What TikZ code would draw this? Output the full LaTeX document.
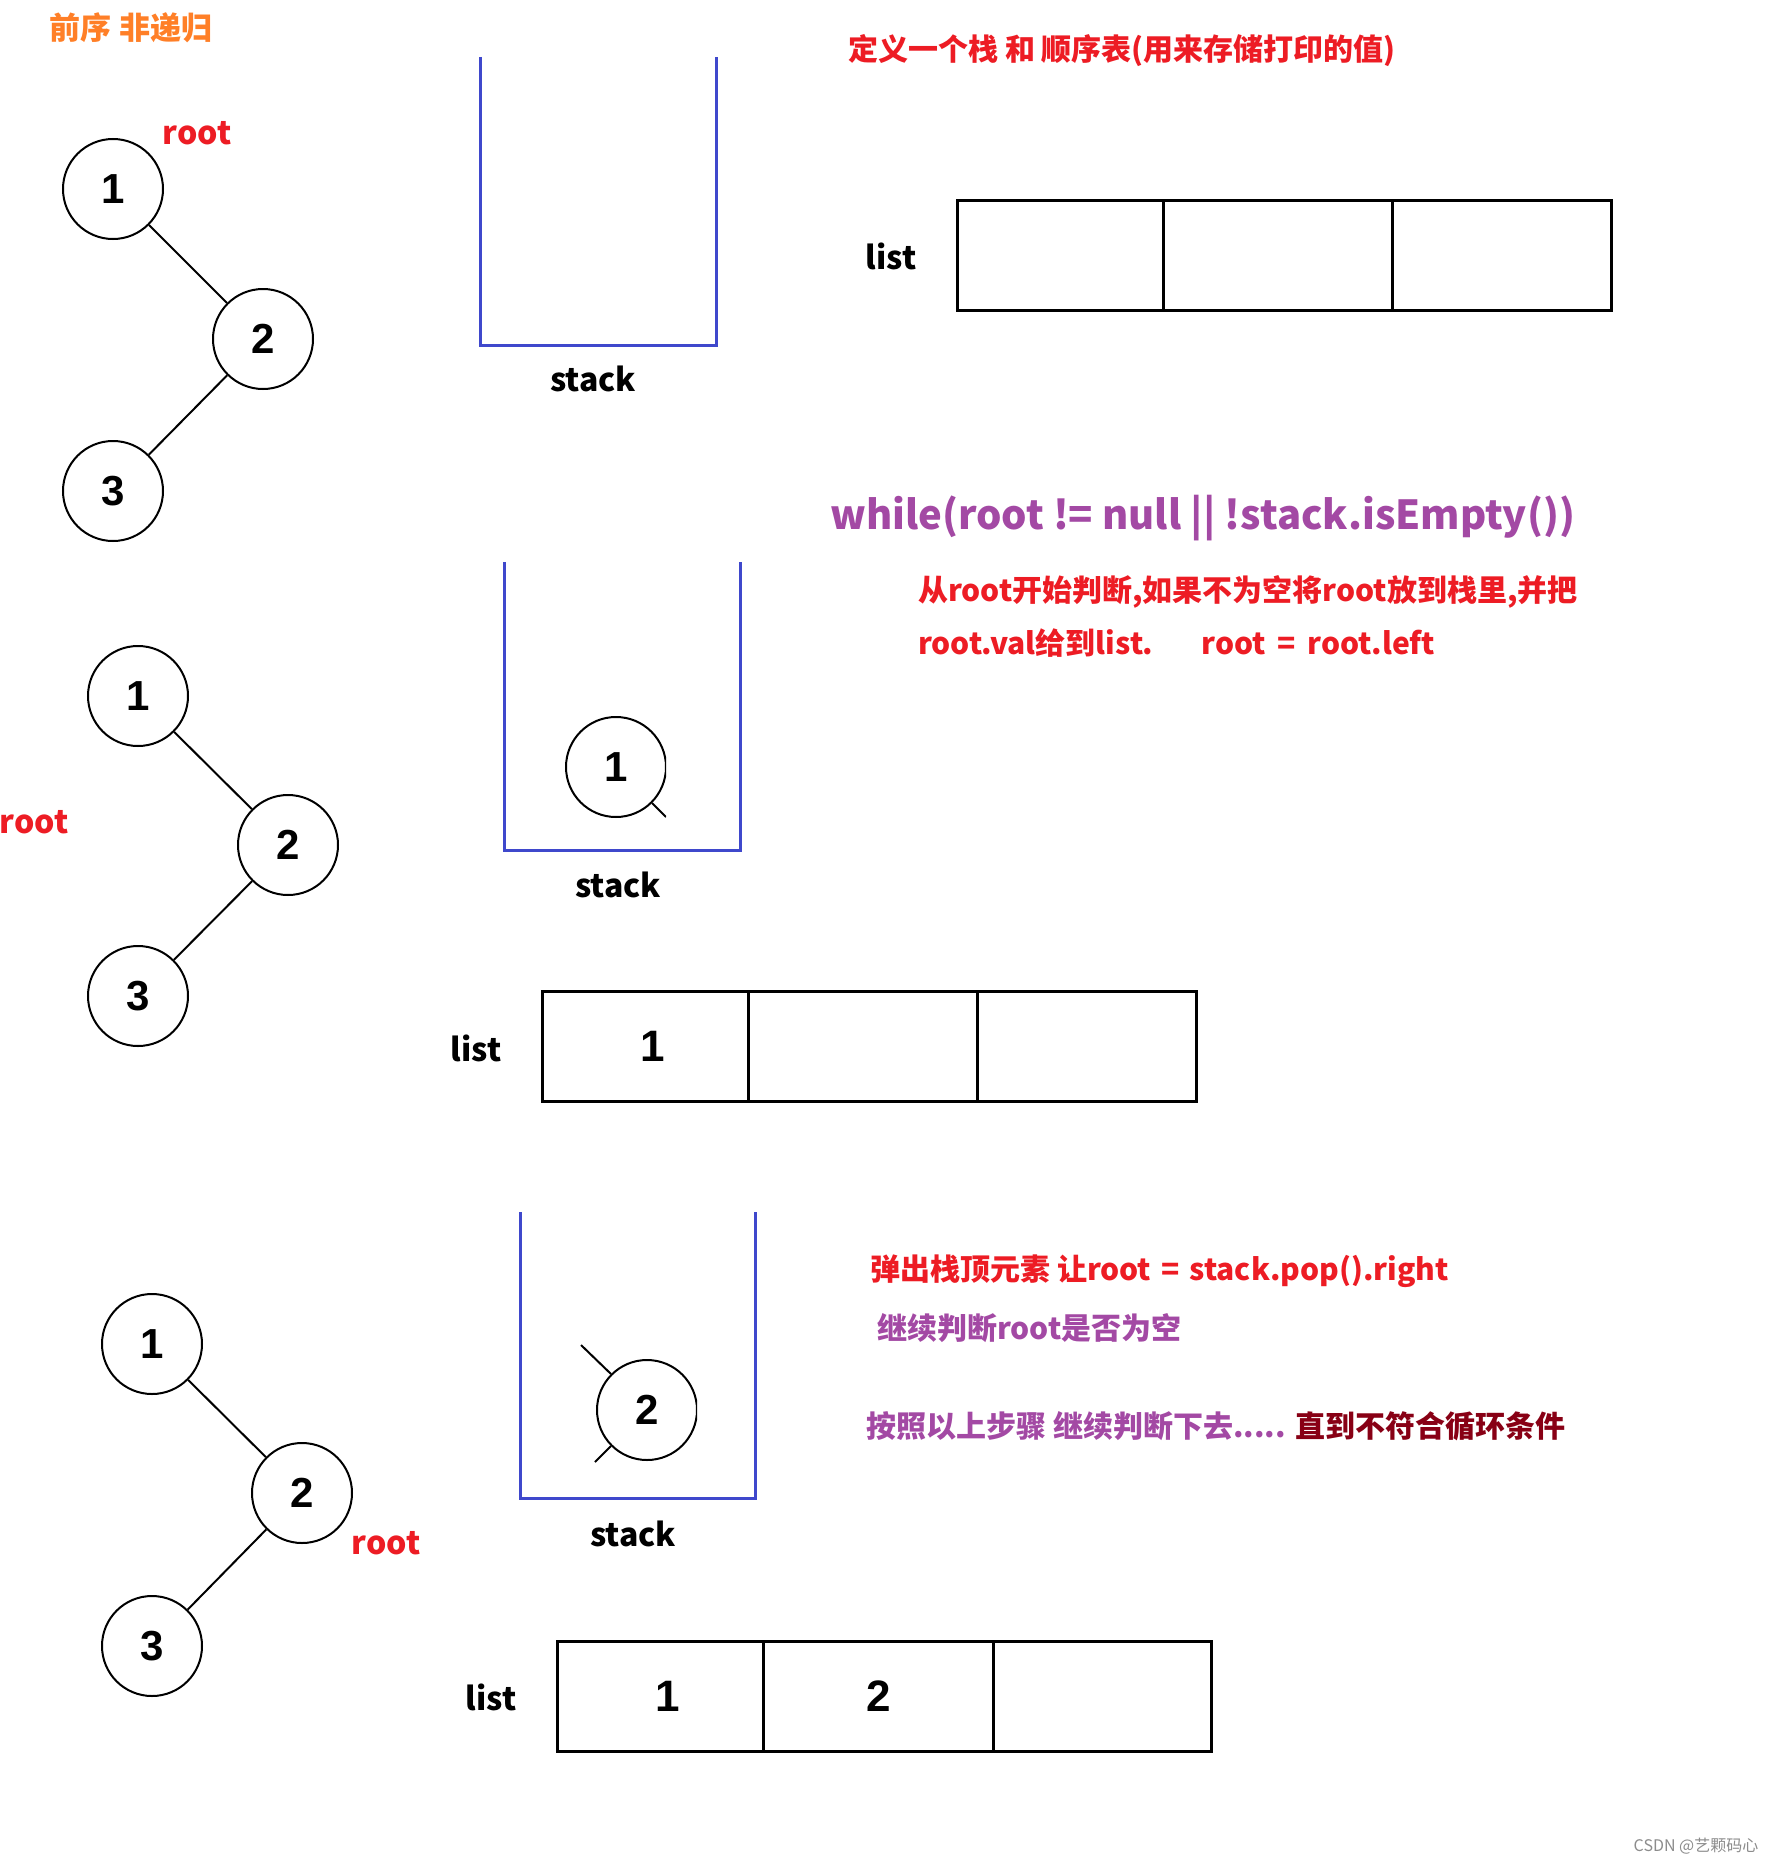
\documentclass[tikz,border=0pt]{standalone}
\usepackage{fontspec}
\setmainfont{Noto Sans CJK SC}
\newfontfamily\digitfont{Liberation Sans}
\definecolor{porange}{HTML}{FF7F27}
\definecolor{pred}{HTML}{ED1C24}
\definecolor{ppurple}{HTML}{A349A4}
\definecolor{pblue}{HTML}{3F48CC}
\definecolor{pdarkred}{HTML}{880015}
\begin{document}
\begin{tikzpicture}[x=1pt,y=-1pt,
  tnode/.style={circle,draw,line width=2pt,minimum size=100pt,inner sep=0pt,
    font=\digitfont\bfseries\fontsize{42}{42}\selectfont},
  tedge/.style={line width=2pt},
  stackline/.style={draw=pblue,line width=3pt},
  cell/.style={draw,line width=3pt,minimum height=110pt,inner sep=0pt,anchor=north west,
    font=\digitfont\bfseries\fontsize{44}{44}\selectfont},
  lbl/.style={font=\bfseries\fontsize{32}{32}\selectfont,inner sep=0pt},
  rootlbl/.style={font=\bfseries\fontsize{32}{32}\selectfont,text=pred,inner sep=0pt},
  txt/.style={font=\bfseries\fontsize{30}{30}\selectfont,inner sep=0pt,anchor=west}
]
\useasboundingbox[fill=white] (0,0) rectangle (1780,1865);

% title
\node[txt,anchor=center,text=porange,font=\bfseries\fontsize{31}{31}\selectfont] (title) at (131,28) {前序 非递归};

% ---------- tree 1 ----------
\node[tnode] (a1) at (113,189) {1};
\node[tnode] (b1) at (263,339) {2};
\node[tnode] (c1) at (113,491) {3};
\draw[tedge] (a1) -- (b1);
\draw[tedge] (b1) -- (c1);
\node[rootlbl] (r1) at (197,133) {root};

% stack 1
\draw[stackline] (480,57) -- (480,345) -- (716,345) -- (716,57);
\node[lbl] (s1) at (593,379) {stack};

\node[txt,text=pred] (h1) at (848,51) {定义一个栈 和 顺序表(用来存储打印的值)};

% list 1
\node[lbl] (L1) at (891,256) {list};
\node[cell,minimum width=206pt] (l1a) at (956,199) {};
\node[cell,minimum width=229pt] (l1b) at (1162,199) {};
\node[cell,minimum width=219pt] (l1c) at (1391,199) {};

% while
\node[txt,text=ppurple,font=\bfseries\fontsize{40}{40}\selectfont] (w) at (830,518) {while(root != null || !stack.isEmpty())};
\node[txt,text=pred] (t1) at (918,592) {从root开始判断,如果不为空将root放到栈里,并把};
\node[txt,text=pred] (t2) at (918,643) {root.val给到list.\hspace{48pt}root\hspace{12pt}=\hspace{12pt}root.left};

% ---------- tree 2 ----------
\node[tnode] (a2) at (138,696) {1};
\node[tnode] (b2) at (288,845) {2};
\node[tnode] (c2) at (138,996) {3};
\draw[tedge] (a2) -- (b2);
\draw[tedge] (b2) -- (c2);
\node[rootlbl] (r2) at (34,822) {root};

% stack 2
\draw[stackline] (504,562) -- (504,850) -- (740,850) -- (740,562);
\begin{scope}
  \clip (500,600) rectangle (666,840);
  \node[tnode] (sa) at (616,767) {1};
  \coordinate (sae) at (666,817);
  \draw[tedge] (sa.315) -- (sae);
\end{scope}
\node[lbl] (s2) at (618,885) {stack};

% list 2
\node[lbl] (L2) at (476,1048) {list};
\node[cell,minimum width=206pt] (l2a) at (541,990) {\hspace{14pt}1};
\node[cell,minimum width=229pt] (l2b) at (747,990) {};
\node[cell,minimum width=219pt] (l2c) at (976,990) {};

% ---------- tree 3 ----------
\node[tnode] (a3) at (152,1344) {1};
\node[tnode] (b3) at (302,1493) {2};
\node[tnode] (c3) at (152,1646) {3};
\draw[tedge] (a3) -- (b3);
\draw[tedge] (b3) -- (c3);
\node[rootlbl] (r3) at (386,1543) {root};

% stack 3
\draw[stackline] (520,1212) -- (520,1498) -- (755,1498) -- (755,1212);
\begin{scope}
  \clip (575,1340) rectangle (697,1465);
  \node[tnode] (sb) at (647,1410) {2};
  \coordinate (sbu) at (581,1345);
  \coordinate (sbl) at (595,1462);
  \draw[tedge] (sb.135) -- (sbu);
  \draw[tedge] (sb.225) -- (sbl);
\end{scope}
\node[lbl] (s3) at (633,1534) {stack};

\node[txt,text=pred] (p1) at (870,1271) {弹出栈顶元素 让root\hspace{10pt}=\hspace{10pt}stack.pop().right};
\node[txt,text=ppurple] (p2) at (877,1328) {继续判断root是否为空};
\node[txt,text=ppurple] (p3) at (866,1426) {按照以上步骤 继续判断下去.....\hspace{10pt}\textcolor{pdarkred}{直到不符合循环条件}};

% list 3
\node[lbl] (L3) at (491,1697) {list};
\node[cell,minimum width=206pt] (l3a) at (556,1640) {\hspace{14pt}1};
\node[cell,minimum width=230pt] (l3b) at (762,1640) {2\hspace{10pt}};
\node[cell,minimum width=218pt] (l3c) at (992,1640) {};

\node[font=\fontsize{16}{16}\selectfont,text=black!45,inner sep=0pt] (csdn) at (1696,1846) {CSDN @艺颗码心};
\end{tikzpicture}
\end{document}
